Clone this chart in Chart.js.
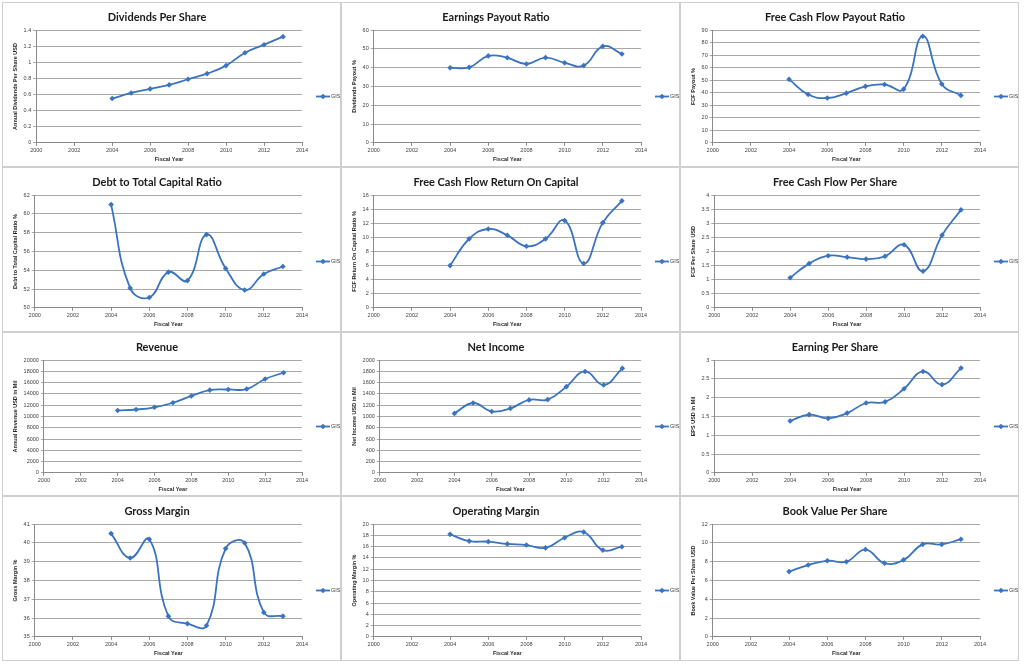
<!DOCTYPE html>
<html>
<head>
<meta charset="utf-8">
<script src="https://cdn.jsdelivr.net/npm/chart.js@4.4.1/dist/chart.umd.min.js"></script>
<style>
    html, body { margin: 0; padding: 0; background: #fff; }
    #grid {
        position: absolute; left: 2px; top: 2px;
        display: grid;
        grid-template-columns: repeat(3, 339px);
        grid-template-rows: repeat(4, 164.75px);
    }
    .panel { position: relative; box-sizing: border-box; border: 1px solid #cfcfcf; overflow: hidden; }
    .panel canvas { position: absolute; left: 0; top: 0; }
</style>
</head>
<body>
<div id="grid"></div>
<script>
// Fiscal years (x) and axis range
const years = [2004, 2005, 2006, 2007, 2008, 2009, 2010, 2011, 2012, 2013];
const xRange = [2000, 2014, 2];
const seriesName = 'GIS';

// Series values
const dividendsPerShare = [0.55, 0.62, 0.67, 0.72, 0.79, 0.86, 0.96, 1.12, 1.22, 1.32];
const earningsPayout = [40.0, 40.2, 46.3, 45.3, 42.0, 45.4, 42.6, 41.2, 51.4, 47.3];
const fcfPayout = [50.7, 38.6, 35.8, 39.7, 45.1, 46.6, 42.9, 85.2, 46.9, 37.9];
const debtToCapital = [61.0, 52.1, 51.1, 53.8, 52.9, 57.8, 54.2, 51.9, 53.6, 54.4];
const fcfReturnOnCapital = [6.0, 9.8, 11.2, 10.3, 8.75, 9.8, 12.4, 6.3, 12.1, 15.2];
const fcfPerShare = [1.07, 1.57, 1.85, 1.80, 1.73, 1.83, 2.24, 1.30, 2.58, 3.48];
const revenue = [11070, 11240, 11640, 12440, 13650, 14690, 14800, 14880, 16660, 17770];
const netIncome = [1055, 1240, 1090, 1145, 1295, 1300, 1530, 1800, 1560, 1855];
const eps = [1.38, 1.55, 1.45, 1.59, 1.86, 1.89, 2.24, 2.70, 2.35, 2.79];
const grossMargin = [40.5, 39.2, 40.2, 36.1, 35.7, 35.6, 39.7, 40.0, 36.3, 36.1];
const operatingMargin = [18.2, 17.0, 16.9, 16.5, 16.3, 15.8, 17.6, 18.6, 15.4, 16.0];
const bookValuePerShare = [6.95, 7.65, 8.1, 8.0, 9.3, 7.85, 8.2, 9.85, 9.85, 10.4];

// y axis ranges: [min, max, step]
const dividendsTicks = [0, 1.4, 0.2];
const earningsPayoutTicks = [0, 60, 10];
const fcfPayoutTicks = [0, 90, 10];
const debtTicks = [50, 62, 2];
const fcfReturnTicks = [0, 16, 2];
const fcfPerShareTicks = [0, 4, 0.5];
const revenueTicks = [0, 20000, 2000];
const netIncomeTicks = [0, 2000, 200];
const epsTicks = [0, 3, 0.5];
const grossMarginTicks = [35, 41, 1];
const operatingMarginTicks = [0, 20, 2];
const bookValueTicks = [0, 12, 2];

const panels = [
    ['Dividends Per Share', 'Annual Dividends Per Share USD', dividendsPerShare, dividendsTicks],
    ['Earnings Payout Ratio', 'Dividends Payout %', earningsPayout, earningsPayoutTicks],
    ['Free Cash Flow Payout Ratio', 'FCF Payout %', fcfPayout, fcfPayoutTicks],
    ['Debt to Total Capital Ratio', 'Debt to Total Capital Ratio %', debtToCapital, debtTicks],
    ['Free Cash Flow Return On Capital', 'FCF Return On Capital Ratio %', fcfReturnOnCapital, fcfReturnTicks],
    ['Free Cash Flow Per Share', 'FCF Per Share USD', fcfPerShare, fcfPerShareTicks],
    ['Revenue', 'Annual Revenue USD in Mil', revenue, revenueTicks],
    ['Net Income', 'Net Income USD in Mil', netIncome, netIncomeTicks],
    ['Earning Per Share', 'EPS USD in Mil', eps, epsTicks],
    ['Gross Margin', 'Gross Margin %', grossMargin, grossMarginTicks],
    ['Operating Margin', 'Operating Margin %', operatingMargin, operatingMarginTicks],
    ['Book Value Per Share', 'Book Value Per Share USD', bookValuePerShare, bookValueTicks]
];

const LINE = '#3a73bf';
const AXIS = '#8a8a8a';
const TICK_FONT = { family: 'Liberation Sans', size: 5.5 };
const fmt = v => String(Math.round(v * 100) / 100);

// Excel-style legend: short line with a diamond, then the series name
const sideLegend = {
    id: 'sideLegend',
    afterDraw(chart) {
        const { ctx, chartArea } = chart;
        const x = chartArea.right + 14;
        const y = (chartArea.top + chartArea.bottom) / 2 + 10;
        ctx.save();
        ctx.strokeStyle = LINE;
        ctx.lineWidth = 1.8;
        ctx.beginPath();
        ctx.moveTo(x, y);
        ctx.lineTo(x + 14, y);
        ctx.stroke();
        ctx.fillStyle = LINE;
        ctx.beginPath();
        ctx.moveTo(x + 7, y - 2.8);
        ctx.lineTo(x + 9.8, y);
        ctx.lineTo(x + 7, y + 2.8);
        ctx.lineTo(x + 4.2, y);
        ctx.closePath();
        ctx.fill();
        ctx.fillStyle = '#404040';
        ctx.font = '5.5px "Liberation Sans"';
        ctx.textBaseline = 'middle';
        ctx.fillText(chart.data.datasets[0].label, x + 15, y);
        ctx.restore();
    }
};

function createChart(parent, title, yTitle, values, yTicks) {
    const panel = document.createElement('div');
    panel.className = 'panel';
    const canvas = document.createElement('canvas');
    canvas.width = 337;
    canvas.height = 162;
    panel.appendChild(canvas);
    parent.appendChild(panel);

    new Chart(canvas.getContext('2d'), {
        type: 'line',
        data: {
            datasets: [{
                label: seriesName,
                data: years.map((yr, i) => ({ x: yr, y: values[i] })),
                borderColor: LINE,
                backgroundColor: LINE,
                borderWidth: 1.8,
                tension: 0.45,
                pointStyle: 'rectRot',
                pointRadius: 2.8,
                pointBorderWidth: 0,
                pointBackgroundColor: LINE
            }]
        },
        options: {
            responsive: false,
            animation: false,
            devicePixelRatio: 1,
            layout: { padding: { left: 9, right: 38, bottom: 2 } },
            plugins: {
                legend: { display: false },
                tooltip: { enabled: false },
                title: {
                    display: true,
                    text: title,
                    color: '#1a1a1a',
                    font: { family: 'Lato', size: 11, weight: 'bold' },
                    padding: { top: 8, bottom: 6 }
                }
            },
            scales: {
                x: {
                    type: 'linear',
                    min: xRange[0], max: xRange[1],
                    ticks: { stepSize: xRange[2], color: '#404040', font: TICK_FONT, padding: 1, callback: fmt, maxRotation: 0 },
                    grid: { drawOnChartArea: false, drawTicks: true, tickLength: 3, color: AXIS },
                    border: { color: AXIS },
                    title: { display: true, text: 'Fiscal Year', color: '#262626', font: { family: 'Liberation Sans', size: 5.5, weight: 'bold' }, padding: { top: 2, bottom: 0 } }
                },
                y: {
                    min: yTicks[0], max: yTicks[1],
                    ticks: { stepSize: yTicks[2], color: '#404040', font: TICK_FONT, padding: 2, callback: fmt },
                    grid: { color: '#a8a8a8', tickLength: 3 },
                    border: { color: AXIS },
                    title: { display: true, text: yTitle, color: '#262626', font: { family: 'Liberation Sans', size: 5.5, weight: 'bold' }, padding: { top: 0, bottom: 3 } }
                }
            }
        },
        plugins: [sideLegend]
    });
}

const grid = document.getElementById('grid');
panels.forEach(p => createChart(grid, p[0], p[1], p[2], p[3]));
</script>
</body>
</html>
